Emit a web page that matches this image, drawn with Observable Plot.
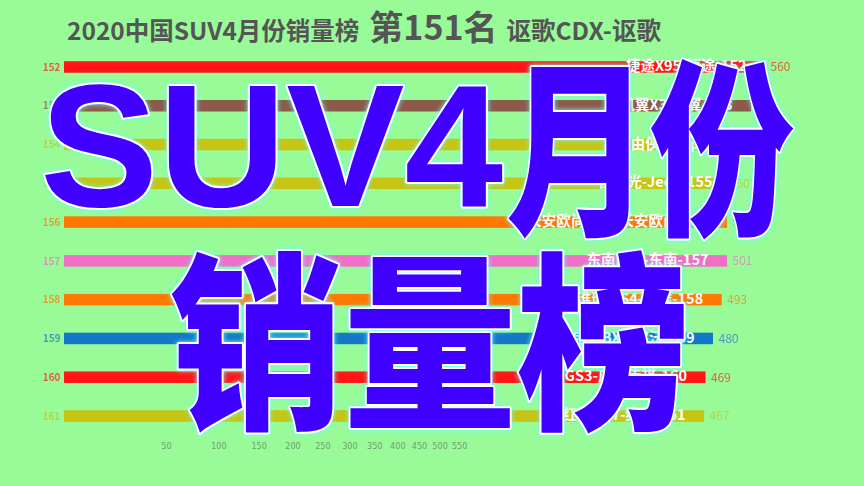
<!DOCTYPE html>
<html><head><meta charset="utf-8">
<script src="https://cdn.jsdelivr.net/npm/d3@7"></script>
<script src="https://cdn.jsdelivr.net/npm/@observablehq/plot@0.6"></script>
<style>
html,body{margin:0;padding:0;background:#98fb98;}
#wrap{position:relative;width:864px;height:486px;background:#98fb98;overflow:hidden;font-family:"Noto Sans CJK SC","Noto Sans",sans-serif;}
#title{position:absolute;left:67px;top:1px;display:flex;align-items:baseline;color:#555;font-weight:700;white-space:nowrap;}
#title .s{font-size:24.5px;}
#title .b{font-size:34px;margin:0 9px 0 10px;}
.layer{position:absolute;left:0;top:0;}
.big{fill:#4000ff;stroke:#fff;stroke-width:4;paint-order:stroke;stroke-linejoin:round;font-weight:900;font-family:"Liberation Sans","Noto Sans CJK SC",sans-serif;filter:drop-shadow(0 0 2.5px #66ffff);}
</style></head>
<body>
<div id="wrap">
  <div id="title"></div>
  <div id="axis" class="layer"></div>
  <div id="chart" class="layer"></div>
  <svg id="big" class="layer" width="864" height="486">
    <text class="big"><tspan id="l1a" x="40" y="206" font-size="174" textLength="463" lengthAdjust="spacingAndGlyphs"></tspan><tspan id="l1b" x="506" y="220" font-size="189" textLength="288" lengthAdjust="spacingAndGlyphs"></tspan></text>
    <text class="big" x="170" y="414" font-size="190" textLength="520" lengthAdjust="spacingAndGlyphs" id="l2"></text>
  </svg>
</div>
<script>
// ---- data ----
const ranks = ["152","153","154","155","156","157","158","159","160","161"];
const names = ["捷途X95-捷途-152","凯翼X3-凯翼-153","自由侠-Jeep-154","自由光-Jeep-155","长安欧尚科赛-长安欧尚-156","东南DX7-东南-157","江淮瑞风S4-江淮-158","宝沃BX5-宝沃-159","传祺GS3-广汽传祺-160","红旗HS7-红旗-161"];
const values = [560,538,535,507,501,501,493,480,469,467];
const palette = ["#ff1616","#8c5a4b","#c6c414","#c6c414","#ff7800","#f06ec8","#ff7800","#1478c8","#ff1616","#c6c414"];
const axisTicks = [50,100,150,200,250,300,350,400,450,500,550];
const titleMain = "2020中国SUV4月份销量榜";
const titleRank = "第151名";
const titleCurrent = "讴歌CDX-讴歌";
const overlayLine1a = "SUV4";
const overlayLine1b = "月份";
const overlayLine2 = "销量榜";

// ---- title ----
const t = document.getElementById("title");
[[titleMain,"s"],[titleRank,"b"],[titleCurrent,"s"]].forEach(([txt,c])=>{
  const s=document.createElement("span"); s.className=c; s.textContent=txt; t.appendChild(s);
});
document.getElementById("l1a").textContent = overlayLine1a;
document.getElementById("l1b").textContent = overlayLine1b;
document.getElementById("l2").textContent = overlayLine2;

const data = ranks.map((r,i)=>({rank:r,name:names[i],value:values[i]}));

// ---- axis (separate sqrt scale as in the reference) ----
const axis = Plot.plot({
  width:864,height:486,margin:0,marginBottom:38,
  style:{background:"transparent"},
  x:{type:"sqrt",domain:[0,550],range:[39.5,459.1],axis:null},
  marks:[
    Plot.text(axisTicks,{x:d=>d,frameAnchor:"bottom",text:d=>String(d),fill:"#6fa06f",fontSize:9,fontFamily:"Liberation Sans Narrow, DejaVu Sans Condensed, sans-serif"})
  ]
});
document.getElementById("axis").appendChild(axis);

// ---- bars ----
const chart = Plot.plot({
  width:864,height:486,margin:0,
  style:{background:"transparent",overflow:"visible",fontFamily:"Noto Sans CJK SC, sans-serif"},
  x:{type:"sqrt",domain:[0,560],range:[64,765],axis:null},
  y:{type:"band",domain:ranks,range:[47.6,435.4],paddingInner:0.7035,paddingOuter:0.35175,round:false,axis:null},
  color:{type:"ordinal",domain:ranks,range:palette},
  marks:[
    Plot.barX(data,{x:"value",y:"rank",fill:"rank"}),
    Plot.text(data,{x:0,y:"rank",text:"rank",textAnchor:"end",dx:-4,fill:"rank",fillOpacity:0.7,fontSize:10,fontWeight:700}),
    Plot.text(data,{x:"value",y:"rank",text:"name",textAnchor:"end",dx:-19,dy:-1,fill:"white",fontSize:14.5,fontWeight:700}),
    Plot.text(data,{x:"value",y:"rank",text:d=>String(d.value),textAnchor:"start",dx:5,fill:"rank",fillOpacity:0.7,fontSize:12})
  ]
});
document.getElementById("chart").appendChild(chart);
</script>
</body></html>
